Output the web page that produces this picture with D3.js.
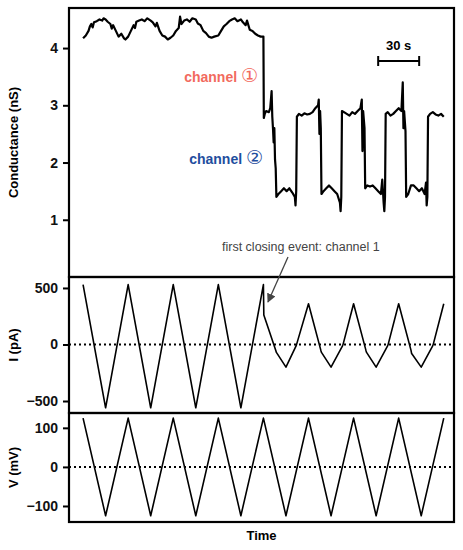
<!DOCTYPE html>
<html><head><meta charset="utf-8">
<script src="https://cdn.jsdelivr.net/npm/d3@7"></script>
<style>body{margin:0;background:#fff}text{font-family:"Liberation Sans",Arial,sans-serif}</style>
</head><body><svg id="canvas"></svg>
<script>
var width = 463, height = 550;

// voltage ramp vertices [s, mV]
var voltage = [[0,125],[16.5,-125],[33,125],[49.5,-125],[66,125],[82.5,-125],[99,125],[115.5,-125],[132,125],
	[148.5,-125],[165,125],[181.5,-125],[198,125],[214.5,-125],[231,125],[247.5,-125],[264,125]];

// current vertices [s, pA]
var current = [[0,530],[16.5,-560],[33,530],[49.5,-560],[66,530],[82.5,-560],[99,530],[115.5,-560],[132,530],
	[132.3,260],[141,-50],[141.5,-70],[148.5,-200],[156,-10],[156.5,10],[165,360],
	[174,-50],[174.5,-70],[181.5,-200],[190,-10],[190.5,10],[198,360],
	[207,-50],[207.5,-70],[214.5,-200],[223,-10],[223.5,10],[231,360],
	[240,-50],[240.5,-80],[247.5,-200],[256,-10],[256.5,10],[264,360]];

// conductance trace [s, nS]
var conductance = [[0,4.17],[2,4.22],[4,4.3],[5,4.38],[6,4.42],[7,4.36],[8,4.45],[10,4.47],[12,4.5],[14,4.48],[15,4.52],[16.5,4.5],
	[18,4.46],[20,4.42],[21,4.34],[22,4.4],[24,4.3],[26,4.2],[28,4.25],[30,4.17],[31,4.15],[33,4.2],
	[35,4.3],[37,4.4],[38,4.35],[39,4.46],[41,4.48],[43,4.5],[45,4.47],[47,4.52],[49.5,4.48],
	[51,4.45],[53,4.38],[54,4.44],[56,4.3],[58,4.22],[60,4.2],[62,4.15],[64,4.18],[66,4.22],
	[68,4.3],[70,4.35],[71,4.55],[72,4.42],[74,4.48],[76,4.5],[78,4.46],[80,4.52],[82.5,4.5],
	[84,4.43],[86,4.4],[88,4.3],[90,4.26],[92,4.2],[94,4.18],[96,4.2],[99,4.22],
	[101,4.3],[103,4.38],[105,4.42],[107,4.47],[109,4.5],[111,4.52],[113,4.47],[115.5,4.5],
	[117,4.45],[119,4.4],[120,4.48],[122,4.32],[124,4.3],[126,4.25],[128,4.22],[130,4.2],[132,4.2],
	[132.3,2.78],[133,2.85],[134,2.9],[136,2.88],[137,2.95],[138,3.25],[138.5,2.8],[139,2.6],[139.5,2.35],[140,2.6],[140.5,2.05],[141,1.9],[141.5,1.4],
	[143,1.45],[145,1.5],[147,1.55],[149,1.5],[151,1.55],[153,1.48],[155,1.4],[155.5,1.25],[156,1.5],
	[156.5,2.8],[158,2.85],[160,2.82],[162,2.86],[164,2.84],[166,2.85],[168,2.88],[170,2.95],[172,3.0],[172.5,3.1],[173,2.5],[173.5,2.9],[174,2.6],
	[174.5,1.45],[176,1.5],[178,1.55],[180,1.6],[182,1.55],[184,1.5],[186,1.45],[188,1.3],[188.5,1.15],[189,1.4],
	[189.5,2.9],[191,2.88],[193,2.85],[195,2.82],[197,2.88],[199,2.85],[201,2.9],[203,2.95],[204,3.1],[204.5,2.2],[205,2.9],[206,2.6],
	[206.5,1.55],[208,1.6],[210,1.58],[212,1.6],[214,1.55],[216,1.5],[218,1.45],[219,1.7],[220,1.3],[220.5,1.15],[221,1.4],
	[221.5,2.85],[223,2.88],[225,2.82],[227,2.85],[229,2.9],[231,2.95],[233,2.9],[234,3.4],[234.5,2.6],[235,2.9],[236,2.55],
	[236.5,1.4],[238,1.45],[240,1.6],[242,1.6],[244,1.55],[246,1.5],[248,1.55],[250,1.45],[251,1.65],[251.5,1.25],[252,1.4],
	[252.5,2.8],[254,2.85],[256,2.88],[258,2.84],[260,2.82],[262,2.85],[264,2.8]];

var gTicks = [1, 2, 3, 4], iTicks = [-500, 0, 500], vTicks = [-100, 0, 100];

var svg = d3.select("#canvas").attr("width", width).attr("height", height);

var left = 69, right = 454;
var x = d3.scaleLinear().domain([-10.3, 271.5]).range([left, right]);

var panels = [
	{data: conductance, domain: [0, 4.7], top: 8, bottom: 277, ticks: gTicks, label: "Conductance (nS)", lx: 18, zero: false, w: 2.2},
	{data: current, domain: [-606, 597], top: 277, bottom: 413, ticks: iTicks, label: "I (pA)", lx: 18, zero: true, w: 1.6},
	{data: voltage, domain: [-141, 138], top: 413, bottom: 522, ticks: vTicks, label: "V (mV)", lx: 18, zero: true, w: 1.6}
];

panels.forEach(function(p) {
	var y = d3.scaleLinear().domain(p.domain).range([p.bottom, p.top]);
	p.y = y;
	if (p.zero) {
		svg.append("line").attr("x1", left).attr("x2", right).attr("y1", y(0)).attr("y2", y(0))
			.attr("stroke", "#000").attr("stroke-width", 2).attr("stroke-dasharray", "2,3");
	}
	svg.append("path").datum(p.data)
		.attr("d", d3.line().x(function(d){ return x(d[0]); }).y(function(d){ return y(d[1]); }))
		.attr("fill", "none").attr("stroke", "#000").attr("stroke-width", p.w).attr("stroke-linejoin", "round");
	var ax = svg.append("g").attr("transform", "translate(" + left + ",0)")
		.call(d3.axisLeft(y).tickValues(p.ticks).tickFormat(d3.format("d")).tickSize(6).tickPadding(5));
	ax.select(".domain").remove();
	ax.selectAll("line").attr("stroke-width", 2);
	ax.selectAll("text").attr("font-size", 14).attr("font-weight", "bold").attr("fill", "#111");
	svg.append("rect").attr("x", left).attr("y", p.top).attr("width", right - left).attr("height", p.bottom - p.top)
		.attr("fill", "none").attr("stroke", "#000").attr("stroke-width", 2.2);
	svg.append("text").attr("transform", "translate(" + p.lx + "," + (p.top + p.bottom) / 2 + ") rotate(-90)")
		.attr("text-anchor", "middle").attr("font-size", 13).attr("font-weight", "bold").text(p.label);
});

svg.append("text").attr("x", (left + right) / 2).attr("y", 540).attr("text-anchor", "middle")
	.attr("font-size", 13).attr("font-weight", "bold").text("Time");

// scale bar 30 s
var bx = 216;
svg.append("line").attr("x1", x(bx)).attr("x2", x(bx + 30)).attr("y1", 61).attr("y2", 61).attr("stroke", "#000").attr("stroke-width", 2.2);
[bx, bx + 30].forEach(function(t) {
	svg.append("line").attr("x1", x(t)).attr("x2", x(t)).attr("y1", 56).attr("y2", 66).attr("stroke", "#000").attr("stroke-width", 2);
});
svg.append("text").attr("x", x(bx + 15)).attr("y", 50).attr("text-anchor", "middle")
	.attr("font-size", 13).attr("font-weight", "bold").text("30 s");

function channel(label, num, xr, yb, col) {
	var t = svg.append("text").attr("x", xr).attr("y", yb).attr("text-anchor", "end").attr("font-weight", "bold").attr("fill", col);
	t.append("tspan").attr("font-size", 14).text(label + " ");
	t.append("tspan").attr("font-size", 19).attr("font-weight", "normal").attr("font-family", "DejaVu Sans").text(num);
}
channel("channel", "\u2460", 258, 82, "#f26a5e");
channel("channel", "\u2461", 263, 164, "#1f4e9e");

svg.append("text").attr("x", 222).attr("y", 251).attr("text-anchor", "start").attr("font-size", 12.5)
	.attr("fill", "#444").text("first closing event: channel 1");
svg.append("defs").append("marker").attr("id", "ar").attr("viewBox", "0 0 10 10").attr("refX", 9).attr("refY", 5)
	.attr("markerWidth", 7).attr("markerHeight", 7).attr("orient", "auto")
	.append("path").attr("d", "M0,0L10,5L0,10z").attr("fill", "#444");
svg.append("line").attr("x1", 288).attr("y1", 257).attr("x2", 268).attr("y2", 302)
	.attr("stroke", "#444").attr("stroke-width", 1.3).attr("marker-end", "url(#ar)");
</script></body></html>
